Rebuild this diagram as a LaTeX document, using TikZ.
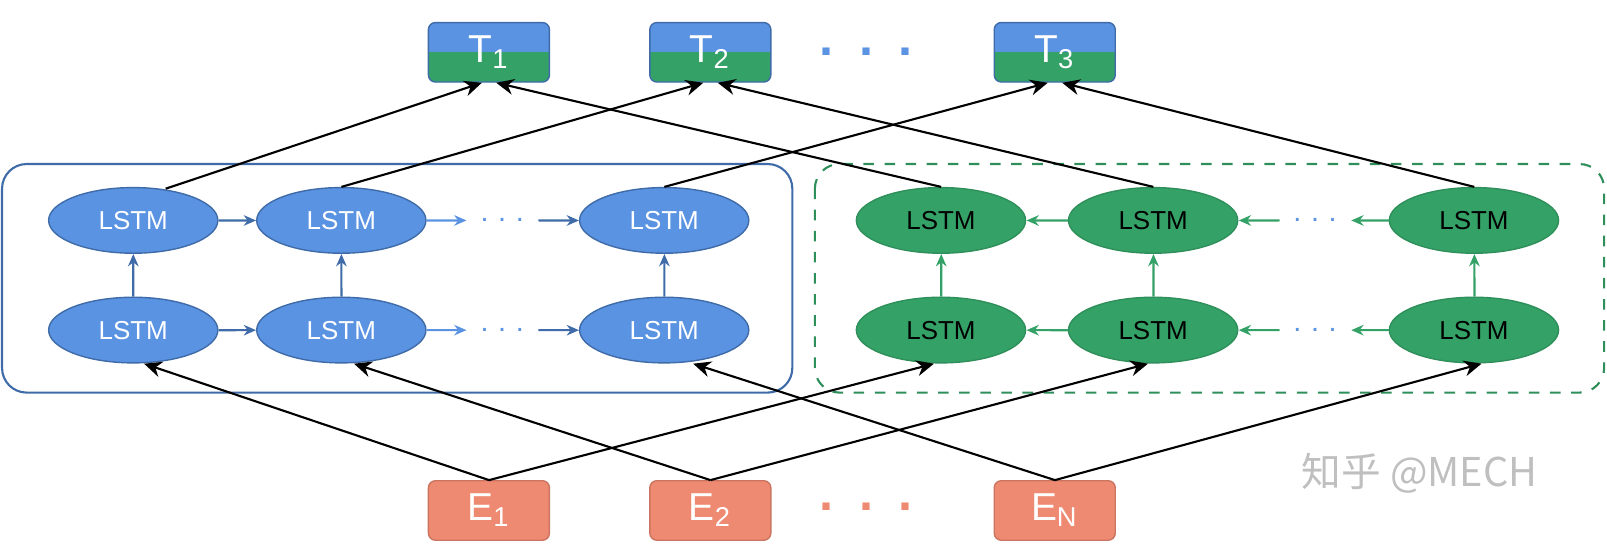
\documentclass[tikz,border=0pt]{standalone}
\usepackage{fontspec}
\setmainfont{Liberation Sans}
\newfontfamily\cjk{Noto Sans CJK SC}
\usetikzlibrary{arrows.meta,shapes.geometric}
\definecolor{lblue}{HTML}{5B93E3}
\definecolor{dblue}{HTML}{3F6BA8}
\definecolor{lgreen}{HTML}{34A267}
\definecolor{dgreen}{HTML}{2E8F5A}
\definecolor{salmon}{HTML}{EF8A72}
\begin{document}
\begin{tikzpicture}[x=0.01cm,y=-0.01cm,
 lst/.style={ellipse,draw=dblue,fill=lblue,minimum width=1.65cm,minimum height=0.64cm,inner sep=0pt,font=\fontsize{7.2}{8}\selectfont,text=white},
 lsr/.style={ellipse,draw=dgreen,fill=lgreen,minimum width=1.65cm,minimum height=0.64cm,inner sep=0pt,font=\fontsize{7.2}{8}\selectfont,text=black},
 tbox/.style={rectangle,rounded corners=2pt,draw=dblue,minimum width=1.18cm,minimum height=0.58cm,text=white,font=\fontsize{10.8}{12}\selectfont,
   path picture={\fill[lblue,sharp corners]([xshift=-2pt,yshift=2pt]path picture bounding box.north west) rectangle ([xshift=2pt]path picture bounding box.east);
                 \fill[lgreen,sharp corners]([xshift=-2pt,yshift=-2pt]path picture bounding box.south west) rectangle ([xshift=2pt]path picture bounding box.east);}},
 ebox/.style={rectangle,rounded corners=2pt,draw=salmon!85!black,fill=salmon,minimum width=1.18cm,minimum height=0.58cm,text=white,font=\fontsize{10.8}{12}\selectfont},
 bk/.style={-{Stealth[length=5pt,width=4.5pt]},black,line width=0.6pt},
 ba/.style={-{Stealth[length=3.5pt,width=3pt]},dblue,line width=0.6pt},
 la/.style={-{Stealth[length=3.5pt,width=3pt]},lblue,line width=0.6pt},
 ga/.style={-{Stealth[length=3.5pt,width=3pt]},lgreen,line width=0.6pt}]
\begin{scope}[scale=1.025,transform shape]
\draw[dblue,line width=0.6pt,rounded corners=7pt] (2,160) rectangle (773,383);
\draw[dgreen,dashed,line width=0.6pt,rounded corners=7pt] (795,160) rectangle (1565,383);
\node[tbox] (t1) at (477,51) {T\textsubscript{1}};
\node[tbox] (t2) at (693,51) {T\textsubscript{2}};
\node[tbox] (t3) at (1029,51) {T\textsubscript{3}};
\node[ebox] (e1) at (477,498) {E\textsubscript{1}};
\node[ebox] (e2) at (693,498) {E\textsubscript{2}};
\node[ebox] (e3) at (1029,498) {E\textsubscript{N}};
\node[text=lblue,font=\fontsize{14}{14}\selectfont\bfseries] (td) at (845,50) {.\,\,\,.\,\,\,.};
\node[text=salmon,font=\fontsize{14}{14}\selectfont\bfseries] (ed) at (845,494) {.\,\,\,.\,\,\,.};
\foreach \n/\x in {1/130,2/333,3/648}{
 \node[lst] (lt\n) at (\x,215) {LSTM};
 \node[lst] (lb\n) at (\x,322) {LSTM};
 \draw[ba] (lb\n) -- (lt\n);}
\foreach \n/\x in {1/918,2/1125,3/1438}{
 \node[lsr] (rt\n) at (\x,215) {LSTM};
 \node[lsr] (rb\n) at (\x,322) {LSTM};
 \draw[ga] (rb\n) -- (rt\n);}
\foreach \r/\y in {t/215,b/322}{
 \draw[ba] (l\r1) -- (l\r2);
 \coordinate (la\r) at (455,\y); \coordinate (lc\r) at (525,\y);
 \draw[la] (l\r2) -- (la\r);
 \node[text=lblue,font=\fontsize{8}{8}\selectfont] (ld\r) at (490,\y) {.\,\,.\,\,.};
 \draw[ba] (lc\r) -- (l\r3);
 \draw[ga] (r\r2) -- (r\r1);
 \coordinate (ra\r) at (1248,\y); \coordinate (rc\r) at (1318,\y);
 \draw[ga] (ra\r) -- (r\r2);
 \node[text=lblue,font=\fontsize{8}{8}\selectfont] (rd\r) at (1283,\y) {.\,\,.\,\,.};
 \draw[ga] (r\r3) -- (rc\r);}
\draw[bk] ([xshift=9pt,yshift=-0.5pt]lt1.north) -- ([xshift=-2pt]t1.south);
\draw[bk] (rt1.north) -- ([xshift=2pt]t1.south);
\draw[bk] (lt2.north) -- ([xshift=-2pt]t2.south);
\draw[bk] (rt2.north) -- ([xshift=2pt]t2.south);
\draw[bk] (lt3.north) -- ([xshift=-2pt]t3.south);
\draw[bk] (rt3.north) -- ([xshift=2pt]t3.south);
\draw[bk] (e1.north) -- ([xshift=3pt]lb1.south);
\draw[bk] (e1.north) -- ([xshift=-2pt]rb1.south);
\draw[bk] (e2.north) -- ([xshift=3.5pt]lb2.south);
\draw[bk] (e2.north) -- ([xshift=-1.5pt]rb2.south);
\draw[bk] (e3.north) -- ([xshift=8pt]lb3.south);
\draw[bk] (e3.north) -- ([xshift=2pt]rb3.south);
\node[text=black!25,font=\cjk\fontsize{11}{11}\selectfont] (wm) at (1385,462) {知乎 @MECH};
\end{scope}
\pgfresetboundingbox
\useasboundingbox (0,0) rectangle (1607,544);
\end{tikzpicture}
\end{document}
